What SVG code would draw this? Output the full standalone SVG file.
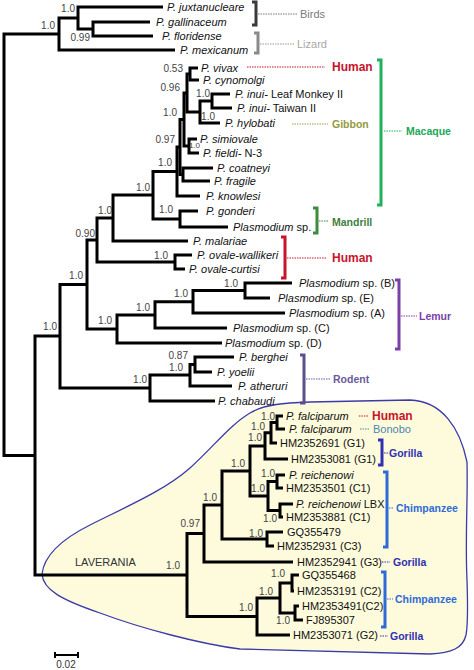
<svg xmlns="http://www.w3.org/2000/svg" width="474" height="670" viewBox="0 0 474 670">
<style>
.br{stroke:#000;stroke-width:3;fill:none;stroke-linecap:butt;stroke-linejoin:miter}
.sp{font-family:"Liberation Sans",Arial,sans-serif;font-size:11px;font-style:italic;fill:#111}
.r{font-style:normal}
.hm{font-family:"Liberation Sans",Arial,sans-serif;font-size:11px;fill:#111}
.lb{font-family:"Liberation Sans",Arial,sans-serif;font-size:10px;fill:#444;text-anchor:end}
.dot{stroke-width:1;stroke-dasharray:1.5 1;fill:none}
.bk{stroke-width:3;fill:none}
.gl{font-family:"Liberation Sans",Arial,sans-serif;font-size:10.5px;font-weight:bold}
.gh{font-family:"Liberation Sans",Arial,sans-serif;font-size:12px;font-weight:bold}
</style>
<path id="laverania-area" d="M42,574 C44,556 60,540 90,525 C130,505 165,490 190,468 C215,445 230,425 250,413 C265,404 285,403 310,402 L410,400 C442,401 460,428 467,462 C468,500 465,540 467,580 C468,610 468,625 466,635 C463,648 452,653 430,654 L240,649 C200,644 140,628 100,613 C62,600 43,590 42,574 Z" fill="#fdfbdc" stroke="#3b3ba8" stroke-width="1.3"/>
<g id="connectors">
<path class="br" d="M150,22 H93 V36 H153"/>
<path class="br" d="M163,7 H78 V29 H93"/>
<path class="br" d="M78,18 H59 V50 H175"/>
<path class="br" d="M198,68 H190 V80 H199"/>
<path class="br" d="M230,94 H212 V108 H232"/>
<path class="br" d="M212,101 H200 V123 H220"/>
<path class="br" d="M190,74 H187 V112 H200"/>
<path class="br" d="M197,139 H189 V153 H199"/>
<path class="br" d="M187,93 H184 V146 H189"/>
<path class="br" d="M213,168 H183 V181 H210"/>
<path class="br" d="M184,119.5 H180 V174.5 H183"/>
<path class="br" d="M180,147 H177 V196 H200"/>
<path class="br" d="M198,211 H180 V227 H228"/>
<path class="br" d="M177,171.5 H153 V219 H180"/>
<path class="br" d="M153,195 H113 V241 H188"/>
<path class="br" d="M192,255 H175 V269 H185"/>
<path class="br" d="M113,218 H97 V262 H175"/>
<path class="br" d="M292,283 H245 V298 H270"/>
<path class="br" d="M245,290.5 H193 V313 H285"/>
<path class="br" d="M193,301.75 H155 V328 H227"/>
<path class="br" d="M155,315 H117 V343 H222"/>
<path class="br" d="M97,240 H87 V329 H117"/>
<path class="br" d="M234,357 H195 V372 H212"/>
<path class="br" d="M195,364.5 H190 V386 H232"/>
<path class="br" d="M190,375 H150 V401 H215"/>
<path class="br" d="M87,284.5 H60 V388 H150"/>
<path class="br" d="M283,416 H277 V429 H285"/>
<path class="br" d="M277,422.5 H271 V443 H277"/>
<path class="br" d="M271,432.75 H265 V459 H288"/>
<path class="br" d="M285,475 H277 V488 H283"/>
<path class="br" d="M293,504 H280 V517 H283"/>
<path class="br" d="M277,481.5 H268 V510.5 H280"/>
<path class="br" d="M265,446 H250 V496 H268"/>
<path class="br" d="M283,532 H267 V546 H274"/>
<path class="br" d="M250,471 H222 V539 H267"/>
<path class="br" d="M222,505 H204 V562 H293"/>
<path class="br" d="M299,575 H292 V591 H294"/>
<path class="br" d="M299,606 H295 V620 H303"/>
<path class="br" d="M292,583 H280 V613 H295"/>
<path class="br" d="M280,598 H257 V635 H290"/>
<path class="br" d="M204,533.5 H187 V616.5 H257"/>
<path class="br" d="M60,336 H35 V575 H187"/>
<path class="br" d="M59,34 H4 V455.5 H35"/>
</g>
<g id="support-values" class="lb">
<text x="75" y="12">1.0</text>
<text x="55" y="29">1.0</text>
<text x="90" y="41">0.99</text>
<text x="183" y="72">0.53</text>
<text x="180" y="91">0.96</text>
<text x="210" y="97">1.0</text>
<text x="177" y="116">1.0</text>
<text x="215" y="120">1.0</text>
<text x="175" y="143">0.97</text>
<text x="200" y="148" font-size="8">1.0</text>
<text x="172" y="166">1.0</text>
<text x="150" y="191">1.0</text>
<text x="173" y="213">1.0</text>
<text x="112" y="214">1.0</text>
<text x="95" y="237">0.90</text>
<text x="168" y="259">1.0</text>
<text x="83" y="279">1.0</text>
<text x="238" y="287">1.0</text>
<text x="188" y="297">1.0</text>
<text x="150" y="311">1.0</text>
<text x="112" y="324">1.0</text>
<text x="57" y="330">1.0</text>
<text x="188" y="359">0.87</text>
<text x="183" y="371">1.0</text>
<text x="147" y="383">1.0</text>
<text x="275" y="420">1.0</text>
<text x="265" y="430">1.0</text>
<text x="262" y="441">1.0</text>
<text x="245" y="467">1.0</text>
<text x="275" y="477">1.0</text>
<text x="265" y="492">1.0</text>
<text x="217" y="501">1.0</text>
<text x="277" y="522">1.0</text>
<text x="200" y="527">0.97</text>
<text x="263" y="537">1.0</text>
<text x="180" y="569">1.0</text>
<text x="285" y="577">1.0</text>
<text x="273" y="595">1.0</text>
<text x="253" y="611">1.0</text>
<text x="290" y="624">1.0</text>
</g>
<g id="leaves">
<g id="juxtanucleare"><text class="sp" x="167" y="11">P. juxtanucleare</text></g>
<g id="gallinaceum"><text class="sp" x="156" y="26">P. gallinaceum</text></g>
<g id="floridense"><text class="sp" x="162" y="40">P. floridense</text></g>
<g id="mexicanum"><text class="sp" x="180" y="54">P. mexicanum</text></g>
<g id="vivax"><text class="sp" x="201" y="72">P. vivax</text></g>
<g id="cynomolgi"><text class="sp" x="203" y="84">P. cynomolgi</text></g>
<g id="inui-lm"><text class="sp" x="235" y="98">P. inui-<tspan class="r"> Leaf Monkey II</tspan></text></g>
<g id="inui-tw"><text class="sp" x="237" y="112">P. inui-<tspan class="r"> Taiwan II</tspan></text></g>
<g id="hylobati"><text class="sp" x="225" y="127">P. hylobati</text></g>
<g id="simiovale"><text class="sp" x="200" y="143">P. simiovale</text></g>
<g id="fieldi"><text class="sp" x="203" y="157">P. fieldi-<tspan class="r"> N-3</tspan></text></g>
<g id="coatneyi"><text class="sp" x="217" y="172">P. coatneyi</text></g>
<g id="fragile"><text class="sp" x="214" y="185">P. fragile</text></g>
<g id="knowlesi"><text class="sp" x="206" y="200">P. knowlesi</text></g>
<g id="gonderi"><text class="sp" x="206" y="215">P. gonderi</text></g>
<g id="plasmodium-sp"><text class="sp" x="233" y="231">Plasmodium<tspan class="r"> sp.</tspan></text></g>
<g id="malariae"><text class="sp" x="193" y="245">P. malariae</text></g>
<g id="ovale-w"><text class="sp" x="197" y="259">P. ovale-wallikeri</text></g>
<g id="ovale-c"><text class="sp" x="189" y="273">P. ovale-curtisi</text></g>
<g id="sp-b"><text class="sp" x="299" y="287">Plasmodium<tspan class="r"> sp. (B)</tspan></text></g>
<g id="sp-e"><text class="sp" x="278" y="302">Plasmodium<tspan class="r"> sp. (E)</tspan></text></g>
<g id="sp-a"><text class="sp" x="289" y="317">Plasmodium<tspan class="r"> sp. (A)</tspan></text></g>
<g id="sp-c"><text class="sp" x="233" y="332">Plasmodium<tspan class="r"> sp. (C)</tspan></text></g>
<g id="sp-d"><text class="sp" x="225" y="347">Plasmodium<tspan class="r"> sp. (D)</tspan></text></g>
<g id="berghei"><text class="sp" x="239" y="361">P. berghei</text></g>
<g id="yoelii"><text class="sp" x="217" y="376">P. yoelii</text></g>
<g id="atheruri"><text class="sp" x="238" y="390">P. atheruri</text></g>
<g id="chabaudi"><text class="sp" x="218" y="405">P. chabaudi</text></g>
<g id="falciparum-h"><text class="sp" x="286" y="420">P. falciparum</text></g>
<g id="falciparum-b"><text class="sp" x="289" y="433">P. falciparum</text></g>
<g id="hm2352691"><text class="hm" x="280" y="447">HM2352691 (G1)</text></g>
<g id="hm2353081"><text class="hm" x="291" y="463">HM2353081 (G1)</text></g>
<g id="reichenowi"><text class="sp" x="289" y="479">P. reichenowi</text></g>
<g id="hm2353501"><text class="hm" x="286" y="492">HM2353501 (C1)</text></g>
<g id="reichenowi-lbx"><text class="sp" x="296" y="508">P. reichenowi<tspan class="r"> LBX</tspan></text></g>
<g id="hm2353881"><text class="hm" x="286" y="521">HM2353881 (C1)</text></g>
<g id="gq355479"><text class="hm" x="287" y="536">GQ355479</text></g>
<g id="hm2352931"><text class="hm" x="277" y="550">HM2352931 (C3)</text></g>
<g id="hm2352941"><text class="hm" x="297" y="566">HM2352941 (G3)</text></g>
<g id="gq355468"><text class="hm" x="302" y="579">GQ355468</text></g>
<g id="hm2353191"><text class="hm" x="297" y="595">HM2353191 (C2)</text></g>
<g id="hm2353491"><text class="hm" x="302" y="610">HM2353491(C2)</text></g>
<g id="fj895307"><text class="hm" x="306" y="624">FJ895307</text></g>
<g id="hm2353071"><text class="hm" x="293" y="639">HM2353071 (G2)</text></g>
</g>
<g id="laverania-label"><text x="75" y="566" font-family="Liberation Sans, Arial, sans-serif" font-size="11" fill="#333">LAVERANIA</text></g>
<g id="host-groups">
<g id="birds"><path class="bk" stroke="#3a3a3a" d="M252,2 H256 V25 H252"/><path class="dot" stroke="#777" d="M258,14 H297"/><text x="300" y="18" font-family="Liberation Sans, Arial, sans-serif" font-size="11" fill="#7a7a7a">Birds</text></g>
<g id="lizard"><path class="bk" stroke="#8a8a8a" d="M254,33 H258 V53 H254"/><path class="dot" stroke="#999" d="M260,44 H295"/><text x="297" y="48" font-family="Liberation Sans, Arial, sans-serif" font-size="11" fill="#a8a8a8">Lizard</text></g>
<g id="human-vivax"><path class="dot" stroke="#c8142a" d="M247,67 H325"/><text class="gh" x="332" y="71" fill="#c8142a">Human</text></g>
<g id="macaque"><path class="bk" stroke="#1fb25a" d="M377,60 H381 V205 H377"/><path class="dot" stroke="#1fb25a" d="M384,131 H402"/><text class="gl" x="406" y="135" fill="#1aa856">Macaque</text></g>
<g id="gibbon"><path class="dot" stroke="#9aa040" d="M292,124 H328"/><text class="gl" x="332" y="128" fill="#93993c">Gibbon</text></g>
<g id="mandrill"><path class="bk" stroke="#3e8a3e" d="M313,208 H317 V233 H313"/><path class="dot" stroke="#3e8a3e" d="M319,221 H329"/><text class="gl" x="332" y="226" fill="#3e7f3e">Mandrill</text></g>
<g id="human-ovale"><path class="bk" stroke="#c8142a" d="M281,237 H285 V278 H281"/><path class="dot" stroke="#c8142a" d="M287,258 H327"/><text class="gh" x="332" y="262" fill="#c8142a">Human</text></g>
<g id="lemur"><path class="bk" stroke="#7b3fa8" d="M395,280 H399 V349 H395"/><path class="dot" stroke="#7b3fa8" d="M401,316 H417"/><text class="gl" x="419" y="320" fill="#7b3fa8">Lemur</text></g>
<g id="rodent"><path class="bk" stroke="#5e4e90" d="M300,355 H304 V403 H300"/><path class="dot" stroke="#6a5a9a" d="M306,379 H330"/><text class="gl" x="333" y="383" fill="#6a5a9a">Rodent</text></g>
<g id="human-falciparum"><path class="dot" stroke="#c8142a" d="M359,416 H369"/><text class="gh" x="372" y="420" fill="#c8142a">Human</text></g>
<g id="bonobo"><path class="dot" stroke="#4a86b0" d="M360,429 H370"/><text x="373" y="433" font-family="Liberation Sans, Arial, sans-serif" font-size="11" fill="#4a86b0">Bonobo</text></g>
<g id="gorilla-g1"><path class="bk" stroke="#3030b0" d="M378,440 H382 V465 H378"/><path class="dot" stroke="#3030b0" d="M384,453 H388"/><text class="gl" x="389" y="457" fill="#3030b0">Gorilla</text></g>
<g id="chimp-1"><path class="bk" stroke="#2f6ad8" d="M383,472 H387 V547 H383"/><path class="dot" stroke="#2f6ad8" d="M389,508 H394"/><text class="gl" x="396" y="512" fill="#2f6ad8">Chimpanzee</text></g>
<g id="gorilla-g3"><path class="dot" stroke="#3030b0" d="M382,562 H390"/><text class="gl" x="393" y="566" fill="#3030b0">Gorilla</text></g>
<g id="chimp-2"><path class="bk" stroke="#2f6ad8" d="M381,572 H385 V627 H381"/><path class="dot" stroke="#2f6ad8" d="M387,599 H393"/><text class="gl" x="395" y="603" fill="#2f6ad8">Chimpanzee</text></g>
<g id="gorilla-g2"><path class="dot" stroke="#3030b0" d="M380,636 H388"/><text class="gl" x="390" y="640" fill="#3030b0">Gorilla</text></g>
</g>
<g id="scale-bar">
<path d="M55,655 H78 M55,652 V658 M78,652 V658" stroke="#000" stroke-width="2" fill="none"/>
<text x="66" y="668" text-anchor="middle" font-family="Liberation Sans, Arial, sans-serif" font-size="10" fill="#333">0.02</text>
</g>
</svg>
